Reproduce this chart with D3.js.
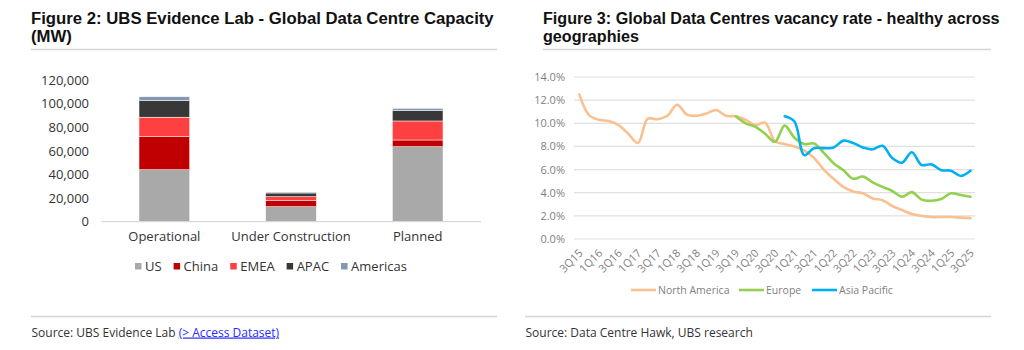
<!DOCTYPE html>
<html><head><meta charset="utf-8">
<script src="https://cdn.jsdelivr.net/npm/d3@7"></script>
<style>
html,body{margin:0;padding:0;background:#fff;}
svg{display:block;font-family:"Open Sans",sans-serif;}
</style></head>
<body>
<svg id="c" width="1024" height="350"></svg>
<script>
// ---------- Figure 2 data ----------
const capCategories = ["Operational", "Under Construction", "Planned"];
const capSeries = ["US", "China", "EMEA", "APAC", "Americas"];
const capUS       = [44000, 12700, 63500];
const capChina    = [28000, 5100, 5700];
const capEMEA     = [16500, 3400, 16100];
const capAPAC     = [14000, 3100, 8700];
const capAmericas = [3300, 800, 2000];
const capTicks = [0, 20000, 40000, 60000, 80000, 100000, 120000];
const capColors = ["#a9a9a9", "#c00000", "#ff4040", "#383838", "#8497b0"];

// ---------- Figure 3 data ----------
const quarters = ["3Q15","4Q15","1Q16","2Q16","3Q16","4Q16","1Q17","2Q17","3Q17","4Q17",
  "1Q18","2Q18","3Q18","4Q18","1Q19","2Q19","3Q19","4Q19","1Q20","2Q20",
  "3Q20","4Q20","1Q21","2Q21","3Q21","4Q21","1Q22","2Q22","3Q22","4Q22",
  "1Q23","2Q23","3Q23","4Q23","1Q24","2Q24","3Q24","4Q24","1Q25","2Q25","3Q25"];
const northAmerica = [12.5,10.7,10.3,10.2,9.85,9.1,8.3,10.4,10.35,10.65,
  11.6,10.75,10.65,10.85,11.15,10.65,10.6,10.3,9.85,10.05,
  8.45,8.2,8.0,7.65,7.0,6.0,5.2,4.5,4.1,3.95,
  3.5,3.35,2.85,2.5,2.15,2.0,1.9,1.9,1.9,1.85,1.8];
const europe = [null,null,null,null,null,null,null,null,null,null,
  null,null,null,null,null,null,10.6,10.0,9.7,9.1,
  8.4,9.8,8.75,8.2,8.25,7.45,6.55,5.95,5.2,5.4,
  4.9,4.5,4.15,3.65,4.05,3.4,3.3,3.45,3.95,3.8,3.65];
const asiaPacific = [null,null,null,null,null,null,null,null,null,null,
  null,null,null,null,null,null,null,null,null,null,
  null,10.6,10.15,7.25,7.85,7.85,7.9,8.5,8.3,7.9,
  7.75,8.05,7.0,6.6,7.5,6.4,6.45,5.95,5.9,5.45,5.9];
const vacSeries = ["North America", "Europe", "Asia Pacific"];
const vacColors = ["#fac090", "#92d050", "#00b0f0"];
const vacTicks = [0, 2, 4, 6, 8, 10, 12, 14];

const svg = d3.select("#c");

// ---------- Titles ----------
function title(x, line1, line2, target) {
  const mk = (y, txt) => svg.append("text").attr("x", x).attr("y", y)
    .attr("font-family", "'Liberation Sans', Arial, sans-serif")
    .attr("font-size", 15).attr("font-weight", 700).attr("fill", "#111").text(txt);
  const a = mk(23.5, line1);
  const fs = 15 * target / a.node().getComputedTextLength();
  a.attr("font-size", fs.toFixed(2));
  mk(41.5, line2).attr("font-size", fs.toFixed(2));
}
title(31, "Figure 2: UBS Evidence Lab - Global Data Centre Capacity", "(MW)", 463);
title(543, "Figure 3: Global Data Centres vacancy rate - healthy across", "geographies", 457);

// separators
[[31, 497, 49.5], [543, 991, 49.5], [31, 497, 316.5], [525, 991, 316.5]].forEach(d => {
  svg.append("line").attr("x1", d[0]).attr("x2", d[1]).attr("y1", d[2]).attr("y2", d[2])
    .attr("stroke", "#d4d4d4").attr("stroke-width", 1.3);
});

// ---------- Figure 2 chart ----------
const capData = capCategories.map((c, i) => ({
  cat: c, US: capUS[i], China: capChina[i], EMEA: capEMEA[i], APAC: capAPAC[i], Americas: capAmericas[i]
}));
const stack = d3.stack().keys(capSeries)(capData);
const xb = d3.scaleBand().domain(capCategories).range([101, 481]).paddingInner(0.6).paddingOuter(0.3);
const yb = d3.scaleLinear().domain([0, 120000]).range([221.7, 80]);

const gBars = svg.append("g");
stack.forEach((s, si) => {
  gBars.selectAll(null).data(s).join("rect")
    .attr("x", d => xb(d.data.cat))
    .attr("width", xb.bandwidth())
    .attr("y", d => yb(d[1]))
    .attr("height", d => yb(d[0]) - yb(d[1]))
    .attr("fill", capColors[si])
    .attr("stroke", "#fff").attr("stroke-width", 0.5);
});

// baseline
svg.append("line").attr("x1", 101).attr("x2", 481).attr("y1", yb(0)).attr("y2", yb(0))
  .attr("stroke", "#d9d9d9").attr("stroke-width", 1.2);

const yAxisL = svg.append("g").attr("transform", "translate(91,0)")
  .call(d3.axisLeft(yb).tickValues(capTicks).tickFormat(d3.format(",")).tickSize(0).tickPadding(2));
yAxisL.select(".domain").remove();
yAxisL.selectAll("text").attr("font-size", 13).attr("fill", "#333").attr("font-family", "Open Sans");

const xAxisL = svg.append("g").attr("transform", `translate(0,${yb(0)})`)
  .call(d3.axisBottom(xb).tickSize(0).tickPadding(10));
xAxisL.select(".domain").remove();
xAxisL.selectAll("text").attr("font-size", 13).attr("fill", "#333").attr("font-family", "Open Sans");

// legend left
const legL = svg.append("g");
let lx = 135;
capSeries.forEach((s, i) => {
  legL.append("rect").attr("x", lx).attr("y", 263).attr("width", 6.5).attr("height", 6.5).attr("fill", capColors[i]);
  const t = legL.append("text").attr("x", lx + 10).attr("y", 266.5).attr("dy", "0.35em")
    .attr("font-size", 13).attr("fill", "#333").text(s);
  lx += 10 + t.node().getComputedTextLength() + 12;
});

// source left
const srcL = svg.append("text").attr("x", 31.5).attr("y", 336.5).attr("font-size", 12).attr("fill", "#333");
srcL.append("tspan").text("Source: UBS Evidence Lab ");
srcL.append("tspan").attr("fill", "#2a2aff").attr("text-decoration", "underline").text("(> Access Dataset)");

// ---------- Figure 3 chart ----------
const xp = d3.scalePoint().domain(quarters).range([579.3, 970.5]);
const yp = d3.scaleLinear().domain([0, 14]).range([239, 77]);

const grid = svg.append("g");
grid.selectAll("line").data(vacTicks).join("line")
  .attr("x1", 574).attr("x2", 975)
  .attr("y1", d => yp(d)).attr("y2", d => yp(d))
  .attr("stroke", "#e0e0e0").attr("stroke-width", 1.2);

const yAxisR = svg.append("g").attr("transform", "translate(565,0)")
  .call(d3.axisLeft(yp).tickValues(vacTicks).tickFormat(d => d3.format(".1f")(d) + "%").tickSize(0).tickPadding(0));
yAxisR.select(".domain").remove();
yAxisR.selectAll("text").attr("font-size", 11).attr("fill", "#7f7f7f").attr("font-family", "Open Sans");

const xLabels = quarters.filter((q, i) => i % 2 === 0);
const xAxisR = svg.append("g");
xAxisR.selectAll("text").data(xLabels).join("text")
  .attr("transform", d => `translate(${xp(d) + 1.5},251) rotate(-45)`)
  .attr("text-anchor", "end").attr("dy", "0.35em")
  .attr("font-size", 11).attr("fill", "#7f7f7f").text(d => d);

const seriesVals = [northAmerica, europe, asiaPacific];
const line = d3.line()
  .x(d => xp(d.q)).y(d => yp(d.v))
  .curve(d3.curveCatmullRom.alpha(0.5));
seriesVals.forEach((vals, si) => {
  const pts = quarters.map((q, i) => ({ q, v: vals[i] })).filter(d => d.v !== null);
  svg.append("path").attr("d", line(pts)).attr("fill", "none")
    .attr("stroke", vacColors[si]).attr("stroke-width", 2.6).attr("stroke-linejoin", "round").attr("stroke-linecap", "round");
});

// legend right
const legR = svg.append("g");
const legPos = [631, 739, 812];
vacSeries.forEach((s, i) => {
  legR.append("line").attr("x1", legPos[i]).attr("x2", legPos[i] + 25).attr("y1", 290).attr("y2", 290)
    .attr("stroke", vacColors[i]).attr("stroke-width", 2.6);
  legR.append("text").attr("x", legPos[i] + 27).attr("y", 290).attr("dy", "0.35em")
    .attr("font-size", 10.5).attr("fill", "#7f7f7f").text(s);
});

svg.append("text").attr("x", 525.5).attr("y", 336.5).attr("font-size", 12).attr("fill", "#333")
  .text("Source: Data Centre Hawk, UBS research");
</script>
</body></html>
